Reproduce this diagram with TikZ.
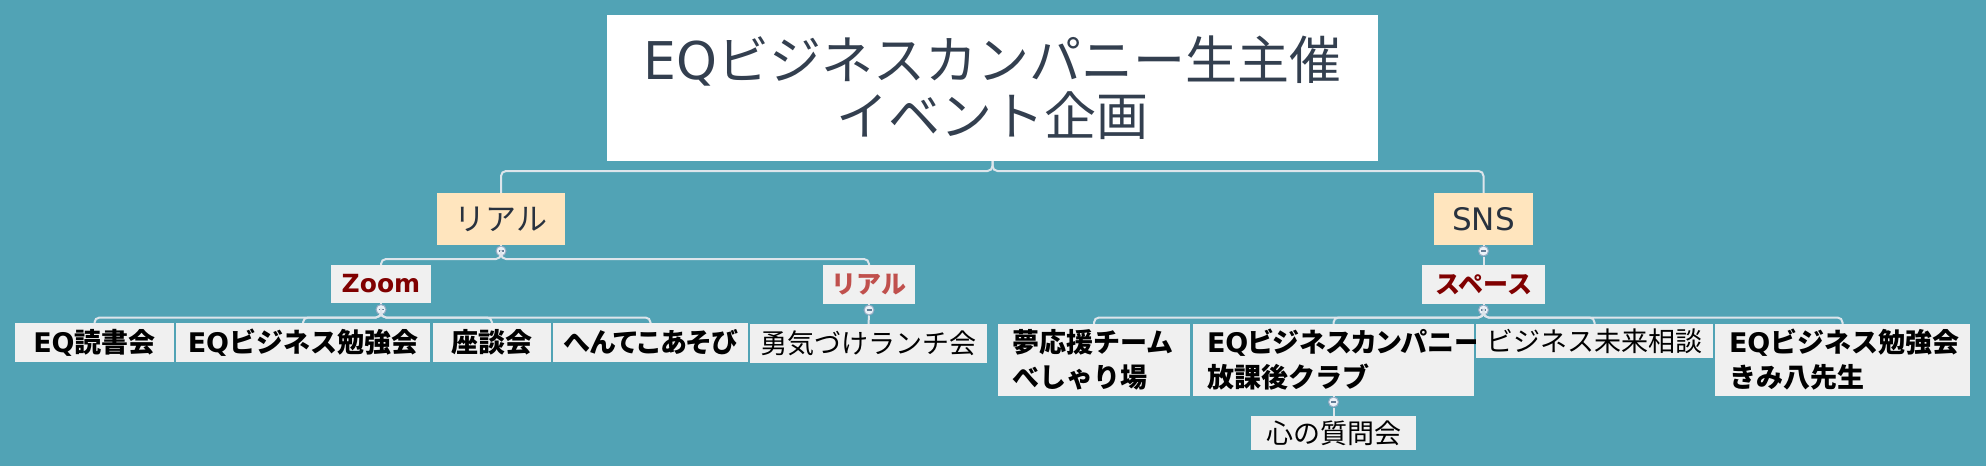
\documentclass[tikz,border=0pt]{standalone}
\usepackage{fontspec}
\setmainfont{Noto Sans CJK JP}
\newfontfamily\lat{DejaVu Sans}
\usetikzlibrary{calc}
\definecolor{bgc}{RGB}{81,163,181}
\definecolor{boxc}{RGB}{240,240,240}
\definecolor{orangec}{RGB}{255,229,190}
\definecolor{titlec}{RGB}{51,63,79}
\definecolor{darkredc}{RGB}{128,0,0}
\definecolor{redc}{RGB}{192,80,77}
\definecolor{linec}{RGB}{221,229,235}
\definecolor{markfill}{RGB}{236,242,248}
\definecolor{markdraw}{RGB}{150,172,196}
\definecolor{markdash}{RGB}{100,125,150}
\newcommand{\prop}{\addfontfeature{RawFeature=+palt}}
\tikzset{
  conn/.style={draw=linec, line width=2pt, rounded corners=5pt},
  boxnode/.style={rectangle, fill=boxc, inner sep=0pt, text=black},
  lvthree/.style={boxnode, font=\fontsize{27}{35}\selectfont\bfseries},
  lvthreereg/.style={boxnode, font=\fontsize{27}{35}\selectfont},
  lvtwo/.style={boxnode, font=\fontsize{25}{30}\selectfont\bfseries},
  lvone/.style={rectangle, fill=orangec, inner sep=0pt, text=titlec!80!black, font=\fontsize{31}{34}\selectfont},
  marker/.style={circle, minimum size=10pt, inner sep=0pt, fill=markfill, draw=markdraw, line width=1pt,
    path picture={\draw[markdash, line width=1.3pt] ([xshift=-2.5pt]path picture bounding box.center) -- ([xshift=2.5pt]path picture bounding box.center);}},
}
\begin{document}
\begin{tikzpicture}[x=1pt,y=-1pt]
\fill[bgc] (0,0) rectangle (1986,466);
\useasboundingbox (0,0) rectangle (1986,466);

% title
\node[rectangle, fill=white, inner sep=0pt, minimum width=771pt, minimum height=146pt, align=center,
  text=titlec, font=\fontsize{52}{56}\selectfont] (ttl) at (992.5,88) {{\lat EQ}ビジネスカンパニー生主催\\イベント企画};

% level 1
\node[lvone, minimum width=128pt, minimum height=52pt] (r1) at (501,219) {リアル};
\node[lvone, minimum width=99pt, minimum height=52pt] (sns) at (1483.5,219) {\lat SNS};

% level 2
\node[lvtwo, minimum width=100pt, minimum height=38pt, text=darkredc] (zm) at (381,284) {\lat Zoom};
\node[lvtwo, minimum width=92pt, minimum height=39pt, text=redc] (r2) at (869,284.5) {リアル};
\node[lvtwo, minimum width=123pt, minimum height=39pt, text=darkredc] (sp) at (1483.5,284.5) {スペース};

% level 3 left
\node[lvthree, minimum width=159pt, minimum height=39pt] (c1) at (94.5,342.5) {{\lat EQ}読書会};
\node[lvthree, minimum width=254pt, minimum height=39pt] (c2) at (303,342.5) {{\lat EQ}ビジネス勉強会};
\node[lvthree, minimum width=118pt, minimum height=39pt] (c3) at (492,342.5) {座談会};
\node[lvthree, minimum width=195pt, minimum height=39pt] (c4) at (650.5,342.5) {\prop へんてこあそび};
\node[lvthreereg, minimum width=237pt, minimum height=39pt] (c5) at (868.5,343.5) {勇気づけランチ会};

% level 3 right
\node[lvthree, minimum width=192pt, minimum height=72pt, text width=164pt, align=left] (d1) at (1094,360) {夢応援チーム\\べしゃり場};
\node[lvthree, minimum width=281pt, minimum height=72pt, text width=253pt, align=left] (d2) at (1333.5,360) {{\prop{\lat EQ}ビジネスカンパニー}\\放課後クラブ};
\node[lvthreereg, minimum width=237pt, minimum height=34pt] (d3) at (1594.5,341) {ビジネス未来相談};
\node[lvthree, minimum width=255pt, minimum height=72pt, text width=227pt, align=left] (d4) at (1842.5,360) {{\lat EQ}ビジネス勉強会\\きみ八先生};
\node[lvthreereg, minimum width=165pt, minimum height=34pt] (d5) at (1333.5,433) {心の質問会};

% markers
\node[marker] (mR) at (501,251) {};
\node[marker] (mS) at (1483.5,251) {};
\node[marker] (mZ) at (381,309.5) {};
\node[marker] (mR2) at (869,310) {};
\node[marker] (mSp) at (1483.5,310) {};
\node[marker] (mD) at (1333.5,402) {};

% helper levels
\coordinate (h0) at (0,171);
\coordinate (h1) at (0,259);
\coordinate (h2) at (0,317.5);
\coordinate (h3) at (0,317.5);

% connectors
\draw[conn] (ttl.south) -- (ttl.south |- h0) -| (r1.north);
\draw[conn] (ttl.south) -- (ttl.south |- h0) -| (sns.north);
\draw[conn] (r1.south) -- (mR.north);
\draw[conn] (mR.south) -- (mR.south |- h1) -| (zm.north);
\draw[conn] (mR.south) -- (mR.south |- h1) -| (r2.north);
\draw[conn] (zm.south) -- (mZ.north);
\foreach \c in {c1,c2,c3,c4}{
  \draw[conn] (mZ.south) -- (mZ.south |- h2) -| (\c.north);
}
\draw[conn] (r2.south) -- (mR2.north);
\draw[conn] (mR2.south) -- (c5.north);
\draw[conn] (sns.south) -- (mS.north);
\draw[conn] (mS.south) -- (sp.north);
\draw[conn] (sp.south) -- (mSp.north);
\foreach \d in {d1,d2,d3,d4}{
  \draw[conn] (mSp.south) -- (mSp.south |- h3) -| (\d.north);
}
\draw[conn] (d2.south) -- (mD.north);
\draw[conn] (mD.south) -- (d5.north);
\end{tikzpicture}
\end{document}
